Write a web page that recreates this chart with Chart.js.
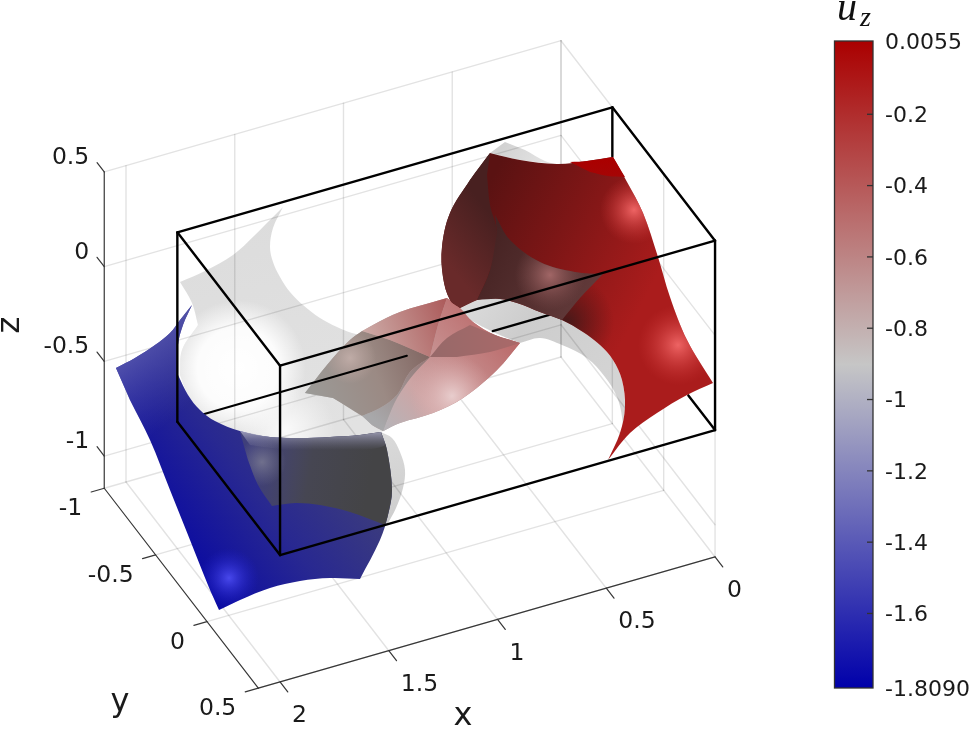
<!DOCTYPE html>
<html>
<head>
<meta charset="utf-8">
<title>u_z surface</title>
<script src="https://cdn.jsdelivr.net/npm/chart.js@4"></script>
<style>
  html, body { margin: 0; background: #fff; }
  #wrap { position: relative; width: 969px; height: 732px; overflow: hidden; }
  #plot { position: absolute; left: 0; top: 0; }
  #bar { position: absolute; left: 820px; top: 0; }
</style>
</head>
<body>
<div id="wrap">
  <canvas id="plot" width="969" height="732"></canvas>
  <canvas id="bar" width="149" height="732"></canvas>
</div>
<script>
// axis values
const xTicks = [0, 0.5, 1, 1.5, 2];
const yTicks = [-1, -0.5, 0, 0.5];
const zTicks = [0.5, 0, -0.5, -1];
const xLabels = ['0', '0.5', '1', '1.5', '2'];
const yLabels = ['-1', '-0.5', '0', '0.5'];
const zLabels = ['0.5', '0', '-0.5', '-1'];
const xEnd = 2.1;
const zFloor = -1.17;

// colorbar
const barMin = -1.809;
const barMax = 0.0055;
const barTicks = [0.0055, -0.2, -0.4, -0.6, -0.8, -1, -1.2, -1.4, -1.6, -1.809];
const barLabels = ['0.0055', '-0.2', '-0.4', '-0.6', '-0.8', '-1', '-1.2', '-1.4', '-1.6', '-1.8090'];

// wire box, [x, y, z] ends
const boxHidden = [
    [[0, -0.5, 0.5], [0, -0.5, 0.24]],
    [[0, 0.5, -0.5], [0, 0.24, -0.5]]
];
const boxMiddle = [
    [[1.9, -0.5, -0.5], [0.945, -0.5, -0.5]],
    [[0.55, -0.5, -0.5], [0.27, -0.5, -0.5]]
];
const boxFront = [
    [[2, -0.5, 0.5], [0, -0.5, 0.5]],
    [[2, 0.5, 0.5], [0, 0.5, 0.5]],
    [[2, -0.5, 0.5], [2, 0.5, 0.5]],
    [[0, -0.5, 0.5], [0, 0.5, 0.5]],
    [[2, -0.5, 0.5], [2, -0.5, -0.5]],
    [[2, 0.5, 0.5], [2, 0.5, -0.5]],
    [[0, 0.5, 0.5], [0, 0.5, -0.5]],
    [[2, -0.5, -0.5], [2, 0.5, -0.5]],
    [[2, 0.5, -0.5], [0, 0.5, -0.5]]
];

// sheet outlines, in image plane units
// a point written twice is a sharp corner
const greyBack = [[283,207],[283,207],[273,228],[270,247],[273,262],[280,277],[290,292],[303,305],[320,318],[337,327],[352,333],[367,337],[385,345],[400,360],[400,360],[395,400],[385,431],[385,431],[360,435],[330,437],[300,438],[270,437],[240,431],[215,421],[200,410],[188,395],[180,375],[180,375],[182,350],[198,325],[198,325],[192,303],[180,282],[180,282],[205,271],[233,255],[255,235],[270,220]];
const greyLow = [[381,432],[381,432],[392,438],[400,452],[405,470],[403,488],[396,508],[387,525],[387,525],[380,520],[385,470]];
const greyArch = [[460,308],[460,308],[477,300],[500,299],[517,303],[540,312],[562,320],[583,332],[600,345],[613,360],[622,380],[625,407],[622,433],[610,458],[610,458],[622,433],[622,417],[617,397],[605,377],[587,358],[562,345],[540,338],[520,343],[520,343],[493,332],[470,320]];
const greyTop = [[505,142],[505,142],[490,153],[490,153],[520,160],[555,164],[555,164],[545,161],[525,150]];
const lensBase = [[305,393],[305,393],[327,365],[350,340],[373,325],[400,312],[440,300],[447,298],[447,298],[460,308],[473,322],[495,335],[520,343],[520,343],[497,370],[463,398],[433,413],[400,423],[383,431],[383,431],[372,425],[362,415],[333,398]];
const lensBack = [[305,393],[305,393],[327,365],[350,340],[362,331],[362,331],[390,340],[430,357],[430,357],[410,372],[397,395],[380,408],[362,416],[362,416],[333,398]];
const lensTop = [[362,331],[362,331],[373,325],[400,312],[440,300],[447,298],[447,298],[438,325],[430,357],[430,357],[390,340]];
const lensFront = [[447,298],[447,298],[460,308],[473,322],[495,335],[520,343],[520,343],[497,370],[463,398],[433,413],[400,423],[383,431],[383,431],[388,418],[397,398],[413,375],[430,357],[430,357],[438,325]];
const lensBand = [[362,416],[362,416],[380,408],[397,395],[410,372],[430,357],[430,357],[413,375],[397,398],[388,418],[383,431],[383,431],[372,425]];
const lensPatch = [[430,357],[430,357],[447,338],[470,325],[470,325],[495,335],[520,343],[520,343],[490,352],[457,357]];
const blueSheet = [[116,368],[116,368],[135,358],[155,345],[170,333],[180,320],[192,305],[192,305],[183,325],[178,345],[178,375],[178,375],[188,395],[200,410],[215,421],[240,431],[270,437],[300,438],[330,437],[360,435],[381,432],[381,432],[387,450],[392,490],[388,515],[380,540],[360,579],[360,579],[330,578],[300,581],[270,588],[240,600],[219,610],[219,610],[208,585],[190,540],[170,490],[150,440],[130,400]];
const blueArc = [[240,431],[240,431],[270,437],[300,438],[330,437],[360,435],[381,432],[381,432],[384,446],[340,450],[290,450],[250,445]];
const darkPatch = [[240,432],[240,432],[270,437],[300,438],[330,437],[360,435],[381,432],[381,432],[387,450],[392,490],[388,515],[385,525],[385,525],[350,512],[320,505],[295,503],[272,506],[272,506],[258,485],[248,460]];
const redSheet = [[490,153],[490,153],[520,160],[557,164],[587,161],[613,157],[613,157],[627,182],[643,213],[658,257],[670,297],[687,340],[713,383],[713,383],[687,395],[657,413],[630,433],[608,460],[608,460],[620,433],[625,407],[622,380],[613,360],[600,345],[583,332],[562,320],[540,312],[517,303],[500,299],[477,300],[460,308],[460,308],[450,300],[443,277],[442,247],[450,213],[470,180]];
const redLobe = [[490,153],[490,153],[470,180],[450,213],[442,247],[443,277],[450,300],[460,308],[460,308],[477,300],[477,300],[490,270],[497,233],[490,205],[487,175]];
const redInner = [[495,215],[495,215],[510,240],[540,262],[575,272],[603,274],[603,274],[580,298],[562,320],[562,320],[540,312],[517,303],[500,299],[477,300],[477,300],[490,270],[497,233]];
const redCorner = [[570,162],[570,162],[587,161],[613,157],[613,157],[625,177],[625,177],[608,176],[590,172]];

// paint order, back to front
const greySheets = [
    {pts: greyBack, lin: [283,207,330,430], stops: [[0,'rgb(220,220,220)'],[1,'rgb(226,226,226)']]},
    {pts: greyBack, rad: [238,368,68], stops: [[0,'rgba(255,255,255,1)'],[0.6,'rgba(255,255,255,0.9)'],[1,'rgba(255,255,255,0)']]},
    {pts: greyBack, rad: [285,430,50], stops: [[0,'rgba(255,255,255,0.85)'],[1,'rgba(255,255,255,0)']]},
    {pts: greyLow, lin: [381,432,405,520], stops: [[0,'rgb(218,218,218)'],[1,'rgb(205,205,205)']]},
    {pts: greyArch, lin: [470,305,600,400], stops: [[0,'rgb(218,218,218)'],[0.35,'rgb(205,205,205)'],[1,'rgb(212,212,212)']]},
    {pts: greyTop, lin: [505,142,545,164], stops: [[0,'rgb(210,210,210)'],[1,'rgb(228,228,228)']]}
];
const lensSheets = [
    {pts: lensBase, lin: [320,400,500,320], stops: [[0,'rgb(175,175,175)'],[1,'rgb(190,130,130)']]},
    {pts: lensBack, lin: [305,393,430,345], stops: [[0,'rgb(155,155,152)'],[0.55,'rgb(155,138,132)'],[1,'rgb(128,100,96)']]},
    {pts: lensBack, rad: [350,358,26], stops: [[0,'rgba(195,175,170,0.9)'],[1,'rgba(190,165,160,0)']]},
    {pts: lensTop, lin: [362,333,447,300], stops: [[0,'rgb(205,172,168)'],[1,'rgb(172,90,90)']]},
    {pts: lensFront, lin: [385,430,510,320], stops: [[0,'rgb(182,180,184)'],[0.3,'rgb(205,165,165)'],[1,'rgb(185,100,100)']]},
    {pts: lensFront, rad: [452,396,42], stops: [[0,'rgba(232,205,205,1)'],[1,'rgba(220,170,170,0)']]},
    {pts: lensBand, lin: [375,420,430,360], stops: [[0,'rgb(168,168,170)'],[1,'rgb(148,120,118)']]},
    {pts: lensPatch, lin: [430,357,520,340], stops: [[0,'rgb(150,105,105)'],[1,'rgb(170,105,105)']]}
];
const frontSheets = [
    {pts: blueSheet, lin: [190,600,395,450], stops: [[0,'rgb(5,5,165)'],[0.45,'rgb(40,40,145)'],[1,'rgb(70,70,115)']]},
    {pts: blueSheet, lin: [116,368,165,425], stops: [[0,'rgba(88,88,175,0.85)'],[1,'rgba(70,70,170,0)']]},
    {pts: blueSheet, rad: [229,578,30], stops: [[0,'rgba(75,75,240,0.95)'],[1,'rgba(30,30,200,0)']]},
    {pts: darkPatch, lin: [250,460,370,480], stops: [[0,'rgba(75,75,112,0.6)'],[0.5,'rgb(70,70,82)'],[1,'rgb(68,68,70)']]},
    {pts: darkPatch, rad: [262,462,24], stops: [[0,'rgba(120,120,145,0.85)'],[1,'rgba(110,110,140,0)']]},
    {pts: blueArc, lin: [310,432,310,450], stops: [[0,'rgba(165,165,190,0.85)'],[1,'rgba(120,120,150,0)']]},
    {pts: redSheet, lin: [480,200,650,290], stops: [[0,'rgb(90,18,18)'],[0.45,'rgb(125,22,22)'],[1,'rgb(170,28,28)']]},
    {pts: redSheet, rad: [566,322,48], stops: [[0,'rgba(65,25,25,0.95)'],[1,'rgba(90,20,20,0)']]},
    {pts: redLobe, lin: [445,260,495,220], stops: [[0,'rgb(105,42,42)'],[1,'rgb(72,32,32)']]},
    {pts: redInner, lin: [490,240,600,300], stops: [[0,'rgb(70,35,35)'],[1,'rgb(100,60,60)']]},
    {pts: redInner, rad: [550,275,35], stops: [[0,'rgba(165,105,105,0.95)'],[1,'rgba(130,80,80,0)']]},
    {pts: redSheet, rad: [634,210,34], stops: [[0,'rgba(238,100,100,1)'],[1,'rgba(200,50,50,0)']]},
    {pts: redSheet, rad: [678,345,40], stops: [[0,'rgba(238,100,100,1)'],[1,'rgba(200,50,50,0)']]},
    {pts: redCorner, lin: [590,160,590,176], stops: [[0,'rgb(170,0,0)'],[1,'rgb(165,5,5)']]}
];

// view of the 3d box on the image plane
function proj(p) {
    return {
        x: 561 - 217.5 * p[0] + 102.7 * (p[1] + 1),
        y: 357 + 62.5 * p[0] + 133.3 * (p[1] + 1) - 189.4 * (p[2] - zFloor)
    };
}

function makeFill(chart, l) {
    const sx = chart.scales.x, sy = chart.scales.y, ctx = chart.ctx;
    // scales have no size on the very first option pass
    if (!sx || !Number.isFinite(sx.getPixelForValue(0)) || !sx.width) return 'transparent';
    let g;
    if (l.lin) {
        g = ctx.createLinearGradient(sx.getPixelForValue(l.lin[0]), sy.getPixelForValue(l.lin[1]),
            sx.getPixelForValue(l.lin[2]), sy.getPixelForValue(l.lin[3]));
    } else {
        const cx = sx.getPixelForValue(l.rad[0]), cy = sy.getPixelForValue(l.rad[1]);
        g = ctx.createRadialGradient(cx, cy, 0, cx, cy, l.rad[2]);
    }
    l.stops.forEach(s => g.addColorStop(s[0], s[1]));
    return g;
}

function lineSet(ends, color, width) {
    return {
        data: ends.map(proj), showLine: true, fill: false, pointRadius: 0,
        borderColor: color, borderWidth: width, tension: 0, borderCapStyle: 'round'
    };
}

function sheetSet(l) {
    return {
        data: l.pts.map(p => ({x: p[0], y: p[1]})),
        showLine: true, fill: 'shape', pointRadius: 0, tension: 0.35,
        borderColor: 'transparent', borderWidth: 1,
        backgroundColor: c => makeFill(c.chart, l)
    };
}

let sets = [];
boxHidden.forEach(e => sets.push(lineSet(e, '#000', 2.4)));
greySheets.forEach(l => sets.push(sheetSet(l)));

// grid on floor and the two walls, see-through so it shows over the grey
const gridColor = 'rgba(0,0,0,0.115)';
xTicks.forEach(v => {
    sets.push(lineSet([[v, -1, zFloor], [v, 0.5, zFloor]], gridColor, 1.4));
    sets.push(lineSet([[v, -1, zFloor], [v, -1, 0.5]], gridColor, 1.4));
});
yTicks.forEach(v => {
    sets.push(lineSet([[0, v, zFloor], [xEnd, v, zFloor]], gridColor, 1.4));
    sets.push(lineSet([[0, v, zFloor], [0, v, 0.5]], gridColor, 1.4));
});
zTicks.forEach(v => {
    sets.push(lineSet([[0, -1, v], [xEnd, -1, v]], gridColor, 1.4));
    sets.push(lineSet([[0, -1, v], [0, 0.5, v]], gridColor, 1.4));
});
// dark axis lines and tick marks
const axisColor = 'rgb(55,55,55)';
sets.push(lineSet([[0, 0.5, zFloor], [xEnd, 0.5, zFloor]], axisColor, 1.2));
sets.push(lineSet([[xEnd, -1, zFloor], [xEnd, 0.5, zFloor]], axisColor, 1.2));
sets.push(lineSet([[xEnd, -1, zFloor], [xEnd, -1, 0.5]], axisColor, 1.2));
xTicks.forEach(v => sets.push(lineSet([[v, 0.5, zFloor], [v, 0.575, zFloor]], axisColor, 1.2)));
yTicks.forEach(v => sets.push(lineSet([[xEnd, v, zFloor], [xEnd + 0.06, v, zFloor]], axisColor, 1.2)));
zTicks.forEach(v => sets.push(lineSet([[xEnd, -1, v], [xEnd, -1.07, v]], axisColor, 1.2)));

lensSheets.forEach(l => sets.push(sheetSet(l)));
boxMiddle.forEach(e => sets.push(lineSet(e, '#000', 2.2)));
frontSheets.forEach(l => sets.push(sheetSet(l)));
boxFront.forEach(e => sets.push(lineSet(e, '#000', 2.4)));

// chart.js paints the first dataset last
sets.reverse();

const labelPlugin = {
    id: 'axisLabels',
    afterDraw(chart) {
        const ctx = chart.ctx, sx = chart.scales.x, sy = chart.scales.y;
        ctx.save();
        ctx.fillStyle = '#1a1a1a';
        ctx.textBaseline = 'middle';
        ctx.font = '23.5px "DejaVu Sans"';
        const put = (s, p, dx, dy, align) => {
            ctx.textAlign = align;
            ctx.fillText(s, sx.getPixelForValue(p.x) + dx, sy.getPixelForValue(p.y) + dy);
        };
        xTicks.forEach((v, i) => put(xLabels[i], proj([v, 0.5, zFloor]), 12, 34, 'left'));
        yTicks.forEach((v, i) => put(yLabels[i], proj([xEnd, v, zFloor]), -22, 21, 'right'));
        zTicks.forEach((v, i) => put(zLabels[i], proj([xEnd, -1, v]), -15, -14, 'right'));
        ctx.font = '32px "DejaVu Sans"';
        ctx.textAlign = 'center';
        ctx.fillText('x', sx.getPixelForValue(463), sy.getPixelForValue(717));
        ctx.fillText('y', sx.getPixelForValue(120), sy.getPixelForValue(703));
        ctx.translate(sx.getPixelForValue(11), sy.getPixelForValue(325));
        ctx.rotate(-Math.PI / 2);
        ctx.fillText('z', 0, 0);
        ctx.restore();
    }
};

new Chart(document.getElementById('plot'), {
    type: 'scatter',
    data: {datasets: sets},
    options: {
        responsive: false,
        animation: false,
        layout: {padding: 0},
        plugins: {legend: {display: false}, tooltip: {enabled: false}},
        scales: {
            x: {type: 'linear', min: 0, max: 969, display: false},
            y: {type: 'linear', min: 0, max: 732, reverse: true, display: false}
        }
    },
    plugins: [labelPlugin]
});

const barPlugin = {
    id: 'barExtras',
    afterDatasetsDraw(chart) {
        const ctx = chart.ctx, a = chart.chartArea, sy = chart.scales.y;
        ctx.save();
        ctx.strokeStyle = 'rgb(50,50,50)';
        ctx.lineWidth = 1.3;
        ctx.strokeRect(a.left, a.top, a.right - a.left, a.bottom - a.top);
        barTicks.slice(1, -1).forEach(v => {
            const py = sy.getPixelForValue(v);
            ctx.beginPath();
            ctx.moveTo(a.right - 6, py);
            ctx.lineTo(a.right, py);
            ctx.stroke();
        });
        ctx.font = 'italic 40px "Liberation Serif"';
        ctx.fillStyle = '#111';
        ctx.textAlign = 'left';
        ctx.textBaseline = 'alphabetic';
        ctx.fillText('u', 17, 20);
        ctx.font = 'italic 28px "Liberation Serif"';
        ctx.fillText('z', 40, 26);
        ctx.restore();
    }
};

new Chart(document.getElementById('bar'), {
    type: 'bar',
    data: {
        labels: ['u'],
        datasets: [{
            data: [[barMin, barMax]],
            barPercentage: 1,
            categoryPercentage: 1,
            backgroundColor: c => {
                const a = c.chart.chartArea;
                if (!a) return '#888';
                const g = c.chart.ctx.createLinearGradient(0, a.top, 0, a.bottom);
                g.addColorStop(0, 'rgb(170,0,0)');
                g.addColorStop(0.5, 'rgb(198,198,198)');
                g.addColorStop(1, 'rgb(0,0,170)');
                return g;
            }
        }]
    },
    options: {
        responsive: false,
        animation: false,
        layout: {padding: {left: 14.5, top: 41, bottom: 44, right: 0}},
        plugins: {legend: {display: false}, tooltip: {enabled: false}},
        scales: {
            x: {display: false},
            y: {
                position: 'right',
                min: barMin,
                max: barMax,
                afterBuildTicks: s => { s.ticks = barTicks.map(v => ({value: v})); },
                afterFit: s => { s.width = 96; s.paddingTop = 0; s.paddingBottom = 0; },
                grid: {display: false},
                border: {display: false},
                ticks: {
                    autoSkip: false,
                    padding: 4,
                    labelOffset: 2,
                    color: '#1a1a1a',
                    font: {family: '"DejaVu Sans"', size: 22},
                    callback: v => barLabels[barTicks.indexOf(v)]
                }
            }
        }
    },
    plugins: [barPlugin]
});
</script>
</body>
</html>
